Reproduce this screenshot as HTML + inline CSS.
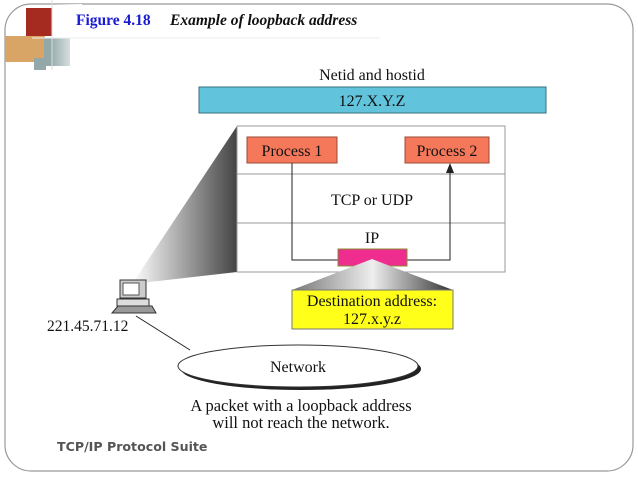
<!DOCTYPE html>
<html><head><style>
body{margin:0;width:638px;height:478px;background:#fff;overflow:hidden}
svg{display:block}
text{font-family:"Liberation Serif",serif;fill:#111}
</style></head><body>
<svg width="638" height="478" viewBox="0 0 638 478">
<defs>
<linearGradient id="g1" x1="0" y1="0" x2="1" y2="0"><stop offset="0" stop-color="#fff"/><stop offset="1" stop-color="#444"/></linearGradient>
<linearGradient id="g2" x1="0" y1="0" x2="1" y2="0"><stop offset="0" stop-color="#777"/><stop offset="0.5" stop-color="#eee"/><stop offset="1" stop-color="#333"/></linearGradient>
<linearGradient id="fade" x1="0" y1="0" x2="1" y2="0"><stop offset="0" stop-color="#fff" stop-opacity="0"/><stop offset="1" stop-color="#fff"/></linearGradient>
</defs>
<rect x="5" y="4" width="628" height="467" rx="26" fill="none" stroke="#999" stroke-width="1.2"/>
<rect x="26" y="8" width="26" height="28" fill="#a52a1f"/>
<rect x="5" y="36" width="40" height="26" fill="#d9a566"/>
<rect x="44" y="38" width="26" height="28" fill="#93a9a9"/>
<rect x="34" y="58" width="12" height="12" fill="#93a9a9"/>
<rect x="50" y="4" width="32" height="70" fill="url(#fade)"/>
<line x1="52" y1="0" x2="52" y2="70" stroke="#ddd"/>
<line x1="32" y1="38" x2="380" y2="38" stroke="#eee"/>
<text x="76" y="25" font-size="15.5" font-weight="bold" style="fill:#1a1ad0">Figure 4.18</text>
<text x="170" y="25" font-size="15.5" font-weight="bold" font-style="italic">Example of loopback address</text>
<text x="372" y="80" font-size="16" text-anchor="middle">Netid and hostid</text>
<rect x="199" y="87" width="347" height="26" fill="#62c4dc" stroke="#37707f"/>
<text x="372" y="106" font-size="16" text-anchor="middle">127.X.Y.Z</text>
<polygon points="132,284 237,126 237,272" fill="url(#g1)"/>
<rect x="237" y="126" width="268" height="146" fill="#fff" stroke="#999"/>
<line x1="237" y1="174" x2="505" y2="174" stroke="#999"/>
<line x1="237" y1="223" x2="505" y2="223" stroke="#999"/>
<rect x="247" y="137" width="90" height="26" fill="#f5785a" stroke="#9a4a38"/>
<text x="292" y="156" font-size="16" text-anchor="middle">Process 1</text>
<rect x="405" y="137" width="84" height="26" fill="#f5785a" stroke="#9a4a38"/>
<text x="447" y="156" font-size="16" text-anchor="middle">Process 2</text>
<text x="372" y="205" font-size="16" text-anchor="middle">TCP or UDP</text>
<text x="372" y="243" font-size="16" text-anchor="middle">IP</text>
<polyline points="292,163 292,260 338,260" fill="none" stroke="#222"/>
<polyline points="407,260 450,260 450,170" fill="none" stroke="#222"/>
<polygon points="450,163 446,173 454,173" fill="#222"/>
<rect x="338" y="249" width="69" height="17" fill="#ee2d8f" stroke="#883"/>
<polygon points="372,259 292,290 453,290" fill="url(#g2)"/>
<rect x="292" y="290" width="161" height="39" fill="#ffff1a" stroke="#777"/>
<text x="372" y="306" font-size="16" text-anchor="middle">Destination address:</text>
<text x="372" y="324" font-size="16" text-anchor="middle">127.x.y.z</text>
<rect x="120" y="280" width="26" height="18" fill="#ccc" stroke="#333"/>
<rect x="123" y="283" width="16" height="12" fill="#fff" stroke="#555"/>
<rect x="117" y="299" width="32" height="7" fill="#ddd" stroke="#333"/>
<polygon points="112,313 118,306 152,306 156,313" fill="#999" stroke="#333"/>
<text x="47" y="331" font-size="15.5">221.45.71.12</text>
<line x1="136" y1="316" x2="190" y2="350" stroke="#222"/>
<ellipse cx="301" cy="369" rx="120" ry="21" fill="#222"/>
<ellipse cx="298" cy="366" rx="120" ry="21" fill="#fff" stroke="#333"/>
<text x="298" y="372" font-size="16" text-anchor="middle">Network</text>
<text x="301" y="411" font-size="16.5" text-anchor="middle">A packet with a loopback address</text>
<text x="301" y="428" font-size="16.5" text-anchor="middle">will not reach the network.</text>
<text x="57" y="451" font-size="12.6" font-weight="bold" style="font-family:'DejaVu Sans',sans-serif;fill:#555">TCP/IP Protocol Suite</text>
</svg>
</body></html>
